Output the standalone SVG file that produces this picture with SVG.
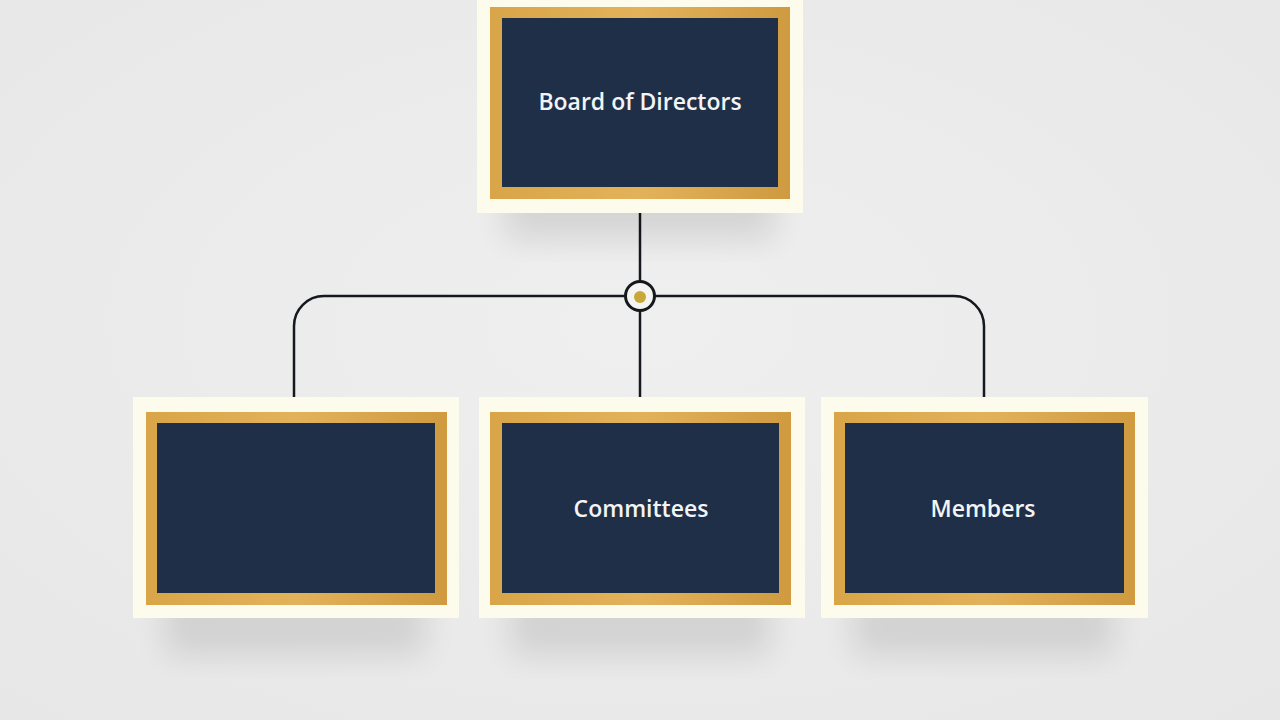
<svg xmlns="http://www.w3.org/2000/svg" width="1280" height="720" viewBox="0 0 1280 720">
<defs>
<radialGradient id="bg" cx="50%" cy="45%" r="75%">
<stop offset="0" stop-color="#efefef"/>
<stop offset="1" stop-color="#e7e7e7"/>
</radialGradient>
<linearGradient id="gold" x1="0" y1="0" x2="1" y2="0">
<stop offset="0" stop-color="#d9a548"/>
<stop offset="0.5" stop-color="#e2b25a"/>
<stop offset="1" stop-color="#cf9a40"/>
</linearGradient>
<filter id="shadow" x="-30%" y="-40%" width="160%" height="180%">
<feGaussianBlur stdDeviation="16"/>
</filter>
<style>
.cream{fill:#fdfcec;}
.goldf{fill:url(#gold);}
.navy{fill:#1f2f48;}
.sh{fill:#000;opacity:0.10;filter:url(#shadow);}
.label{font-family:"Open Sans","Liberation Sans",sans-serif;font-weight:600;font-size:23px;fill:#f2f4f6;text-anchor:middle;}
.conn{fill:none;stroke:#15181c;stroke-width:2.5;}
</style>
</defs>
<rect width="1280" height="720" fill="url(#bg)"/>

<g id="connectors">
<path class="conn" d="M640 213 V281"/>
<path class="conn" d="M625 296 H324 A30 30 0 0 0 294 326 V397"/>
<path class="conn" d="M655 296 H954 A30 30 0 0 1 984 326 V397"/>
<path class="conn" d="M640 311 V397"/>
<circle cx="640" cy="296" r="14.5" fill="#f4f4f2" stroke="#15181c" stroke-width="3"/>
<circle cx="640" cy="297" r="6" fill="#c9a83a"/>
</g>

<g id="node-board">
<rect class="sh" x="505" y="185" width="270" height="55"/>
<rect class="cream" x="477" y="0" width="326" height="213"/>
<rect class="goldf" x="490" y="7" width="300" height="192"/>
<rect class="navy" x="502" y="18" width="276" height="169"/>
<text class="label" x="640" y="110">Board of Directors</text>
</g>

<g id="node-left">
<rect class="sh" x="165" y="595" width="260" height="60"/>
<rect class="cream" x="133" y="397" width="326" height="221"/>
<rect class="goldf" x="146" y="412" width="301" height="193"/>
<rect class="navy" x="157" y="423" width="278" height="170"/>
</g>

<g id="node-committees">
<rect class="sh" x="510" y="595" width="260" height="60"/>
<rect class="cream" x="479" y="397" width="326" height="221"/>
<rect class="goldf" x="490" y="412" width="301" height="193"/>
<rect class="navy" x="502" y="423" width="277" height="170"/>
<text class="label" x="641" y="517">Committees</text>
</g>

<g id="node-members">
<rect class="sh" x="853" y="595" width="260" height="60"/>
<rect class="cream" x="821" y="397" width="327" height="221"/>
<rect class="goldf" x="834" y="412" width="301" height="193"/>
<rect class="navy" x="845" y="423" width="279" height="170"/>
<text class="label" x="983" y="517">Members</text>
</g>
</svg>
